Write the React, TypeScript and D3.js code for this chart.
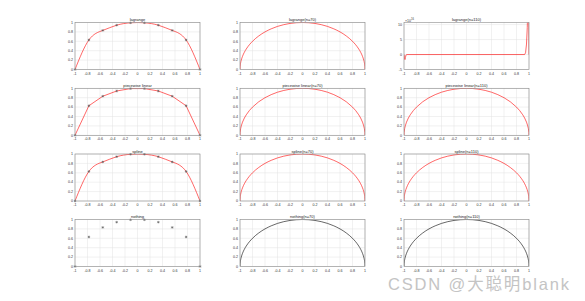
import React from "react";
import * as d3 from "d3";

const W = 585;
const H = 301;

// interpolation nodes (n = 10)
const nodeX = [-1, -0.7778, -0.5556, -0.3333, -0.1111, 0.1111, 0.3333, 0.5556, 0.7778, 1];
const nodeY = [0, 0.6285, 0.8315, 0.9428, 0.9938, 0.9938, 0.9428, 0.8315, 0.6285, 0];

// dense curve read from the n=70 / n=110 panels
const denseX = [-1, -0.998, -0.99, -0.98, -0.96, -0.93, -0.9, -0.85, -0.8, -0.7, -0.6, -0.5, -0.4, -0.3, -0.2, -0.1, 0,
  0.1, 0.2, 0.3, 0.4, 0.5, 0.6, 0.7, 0.8, 0.85, 0.9, 0.93, 0.96, 0.98, 0.99, 0.998, 1];
const denseY = [0, 0.063, 0.141, 0.199, 0.28, 0.368, 0.436, 0.527, 0.6, 0.714, 0.8, 0.866, 0.917, 0.954, 0.98, 0.995, 1,
  0.995, 0.98, 0.954, 0.917, 0.866, 0.8, 0.714, 0.6, 0.527, 0.436, 0.368, 0.28, 0.199, 0.141, 0.063, 0];

// lagrange n=110 (values x 10^16)
const rungeX = [-1, -0.993, -0.985, -0.977, -0.968, -0.955, 0.93, 0.945, 0.96, 0.972, 0.985, 0.995, 1];
const rungeY = [0, -0.9, -1.7, -1.0, -0.15, 0, 0, 0.6, 3.5, 9, 20, 20, 0];

const titles = [
  "lagrange", "lagrange(n=70)", "lagrange(n=110)",
  "piecewise linear", "piecewise linear(n=70)", "piecewise linear(n=110)",
  "spline", "spline(n=70)", "spline(n=110)",
  "nothing", "nothing(n=70)", "nothing(n=110)",
];

const xTicks = [-1, -0.8, -0.6, -0.4, -0.2, 0, 0.2, 0.4, 0.6, 0.8, 1];
const yTicks = [0, 0.2, 0.4, 0.6, 0.8, 1];
const rungeYTicks = [-5, 0, 5, 10];

const colLeft = [75, 240, 404];
const rowTop = [22.5, 88.3, 154, 219.5];
const PW = 125;
const PH = 47;

const FONT = "'Liberation Sans', Arial, sans-serif";

function Star({ x, y }: { x: number; y: number }) {
  const s = 1.3;
  return (
    <g stroke="#555" strokeWidth={0.45}>
      <line x1={x - s} x2={x + s} y1={y} y2={y} />
      <line x1={x} x2={x} y1={y - s} y2={y + s} />
      <line x1={x - s * 0.7} x2={x + s * 0.7} y1={y - s * 0.7} y2={y + s * 0.7} />
      <line x1={x - s * 0.7} x2={x + s * 0.7} y1={y + s * 0.7} y2={y - s * 0.7} />
    </g>
  );
}

function Panel({ r, c }: { r: number; c: number }) {
  const left = colLeft[c];
  const top = rowTop[r];
  const idx = r * 3 + c;
  const isRunge = r === 0 && c === 2;
  const x = d3.scaleLinear().domain([-1, 1]).range([left, left + PW]);
  const y = isRunge
    ? d3.scaleLinear().domain([-5, 10.7]).range([top + PH, top])
    : d3.scaleLinear().domain([0, 1]).range([top + PH, top]);
  const yt = isRunge ? rungeYTicks : yTicks;
  const color = r === 3 ? "#000" : "#ff0000";

  let path: string | null = null;
  if (isRunge) {
    path = d3.line<number>().x((d, i) => x(rungeX[i])).y((d) => y(d)).curve(d3.curveLinear)(rungeY);
  } else if (c === 0) {
    if (r === 1) path = d3.line<number>().x((d, i) => x(nodeX[i])).y((d) => y(d)).curve(d3.curveLinear)(nodeY);
    else if (r !== 3) path = d3.line<number>().x((d, i) => x(nodeX[i])).y((d) => y(d)).curve(d3.curveNatural)(nodeY);
  } else {
    path = d3.line<number>().x((d, i) => x(denseX[i])).y((d) => y(d)).curve(r === 1 ? d3.curveLinear : d3.curveMonotoneX)(denseY);
  }
  const clipId = `clip${idx}`;
  const fmt = (v: number) => (isRunge ? String(v) : String(+v.toFixed(1)));
  return (
    <g style={{ fontFamily: FONT }}>
      <defs>
        <clipPath id={clipId}>
          <rect x={left} y={top} width={PW} height={PH} />
        </clipPath>
      </defs>
      <rect x={left} y={top} width={PW} height={PH} fill="#fff" />
      {xTicks.map((t) => (
        <line key={"gx" + t} x1={x(t)} x2={x(t)} y1={top} y2={top + PH} stroke="#e3e3e3" strokeWidth={0.5} />
      ))}
      {yt.map((t) => (
        <line key={"gy" + t} x1={left} x2={left + PW} y1={y(t)} y2={y(t)} stroke="#e3e3e3" strokeWidth={0.5} />
      ))}
      {path && (
        <path d={path} fill="none" stroke={color} strokeWidth={0.6} clipPath={`url(#${clipId})`} />
      )}
      {c === 0 && nodeX.map((nx, i) => <Star key={i} x={x(nx)} y={y(nodeY[i])} />)}
      <rect x={left} y={top} width={PW} height={PH} fill="none" stroke="#8a8a8a" strokeWidth={0.6} />
      {xTicks.map((t) => (
        <text key={"tx" + t} x={x(t)} y={top + PH + 5} fontSize={3.6} fill="#333" textAnchor="middle">
          {fmt(t)}
        </text>
      ))}
      {yt.map((t) => (
        <text key={"ty" + t} x={left - 2} y={y(t) + 1.2} fontSize={3.6} fill="#333" textAnchor="end">
          {fmt(t)}
        </text>
      ))}
      {isRunge && (
        <text x={left + 1} y={top - 1} fontSize={3.6} fill="#333">
          ×10<tspan dy={-1.5} fontSize={2.6}>16</tspan>
        </text>
      )}
      <text x={left + PW / 2} y={top - 1.3} fontSize={4} fill="#222" textAnchor="middle">
        {titles[idx]}
      </text>
    </g>
  );
}

export default function App() {
  const rows = [0, 1, 2, 3];
  const cols = [0, 1, 2];
  return (
    <svg width={W} height={H} style={{ position: "absolute", left: 0, top: 0, background: "#fff" }}>
      <rect width={W} height={H} fill="#fff" />
      {rows.map((r) => cols.map((c) => <Panel key={r + "-" + c} r={r} c={c} />))}
      <text
        x={388}
        y={290}
        fontSize={16.5}
        fill="#c4c4c4"
        style={{ fontFamily: "'Liberation Sans', Arial, 'Noto Sans CJK SC', sans-serif" }}
        textLength={181}
        lengthAdjust="spacing"
      >
        CSDN @大聪明blank
      </text>
    </svg>
  );
}
